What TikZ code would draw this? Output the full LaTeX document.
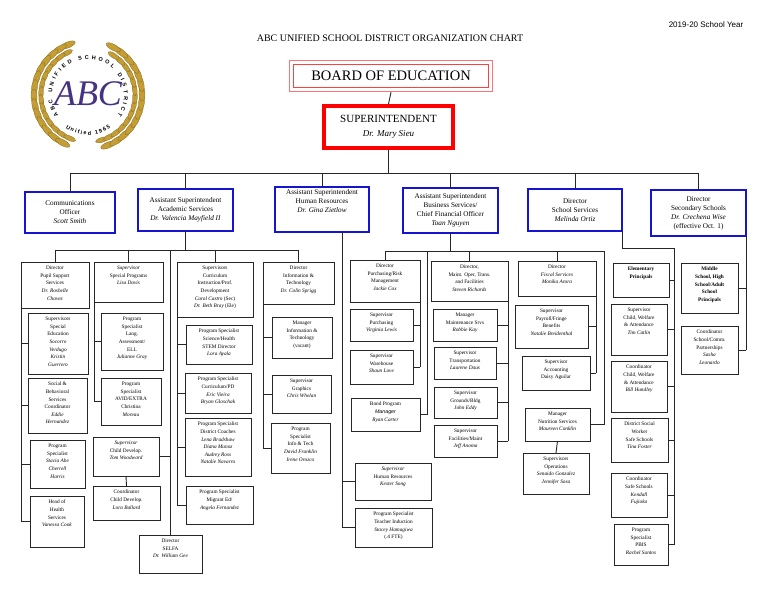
\documentclass[tikz,border=0pt]{standalone}
\usepackage{fontspec}
\setmainfont{Liberation Serif}
\newfontfamily\arialf{Liberation Sans}
\usetikzlibrary{decorations.text,calc}
\definecolor{gold}{RGB}{196,158,52}
\definecolor{goldd}{RGB}{120,90,20}
\definecolor{abcpurple}{RGB}{70,50,130}
\definecolor{bblue}{RGB}{20,20,210}
\tikzset{
  sbox/.style={draw=black!85, line width=0.9pt, inner sep=0pt, outer sep=0pt},
  stext/.style={align=center, inner sep=0pt, font=\fontsize{5.3}{7.6}\selectfont},
  topbox/.style={draw=bblue, line width=2pt, fill=white, inner sep=0pt, outer sep=0pt, align=center, font=\fontsize{7.2}{9}\selectfont},
  conn/.style={draw=black!85, line width=0.9pt},
}
\newcommand\obox[6]{%
  \node[sbox, minimum width={(#4-#2)*1pt}, minimum height={(#5-#3)*1pt}] (#1) at ({(#2+#4)/2},{-(#3+#5)/2}) {};
  \node[stext, anchor=north] (#1t) at ([yshift=-4pt]#1.north) {#6};}
\newcommand\tbox[6]{%
  \node[topbox, minimum width={(#4-#2)*1pt}, minimum height={(#5-#3)*1pt}] (#1) at ({(#2+#4)/2},{-(#3+#5)/2}) {#6};}
\begin{document}
\begin{tikzpicture}[x=1pt,y=1pt]
\useasboundingbox[fill=white] (0,0) rectangle (768,-594);
% logo
\coordinate (L) at (88,-95);
\foreach \a in {112,122,...,248} {
  \fill[gold,draw=goldd,line width=0.2pt,shift={(L)},rotate=\a] (54,0) ellipse (3pt and 8pt);
  \fill[gold,draw=goldd,line width=0.2pt,shift={(L)},rotate=\a+5] (47,0) ellipse (2.4pt and 6.5pt);}
\foreach \a in {-68,-58,...,68} {
  \fill[gold,draw=goldd,line width=0.2pt,shift={(L)},rotate=\a] (54,0) ellipse (3pt and 8pt);
  \fill[gold,draw=goldd,line width=0.2pt,shift={(L)},rotate=\a-5] (47,0) ellipse (2.4pt and 6.5pt);}
\node[text=abcpurple, font=\itshape\fontsize{36}{36}\selectfont, inner sep=0pt] (abc) at (88,-94) {ABC};
\path[decorate, decoration={text along path, text align=fit to path,
  text={|\arialf\bfseries\fontsize{5.5}{5.5}\selectfont|ABC UNIFIED SCHOOL DISTRICT}}]
  ($(L)+(215:36)$) arc (215:-35:36);
\path[decorate, decoration={text along path, text align=fit to path,
  text={|\arialf\bfseries\fontsize{5.5}{5.5}\selectfont|Unified 1965}}]
  ($(L)+(236:40)$) arc (236:304:40);
% titles
\node[font=\arialf\fontsize{8}{9}\selectfont] (yr) at (706,-25) {2019-20 School Year};
\node[font=\fontsize{10}{12}\selectfont] (title) at (390,-38) {ABC UNIFIED SCHOOL DISTRICT ORGANIZATION CHART};
\node[draw=red!55, line width=1.5pt, minimum width=203pt, minimum height=31pt, inner sep=0pt] (board) at (391,-76) {};
\node[draw=red!75, line width=0.8pt, minimum width=195pt, minimum height=23pt, inner sep=0pt, font=\fontsize{14.5}{15}\selectfont] (boardi) at (391,-76) {BOARD OF EDUCATION};
\node[draw=red, line width=4pt, minimum width=129pt, minimum height=42pt, inner sep=0pt, align=center, font=\fontsize{11}{14}\selectfont] (super) at (388.5,-127) {SUPERINTENDENT\\\textit{\fontsize{9}{12}\selectfont Dr. Mary Sieu}};
% top boxes
\tbox{comm}{25}{192}{115}{233}{Communications\\Officer\\\textit{Scott Smith}}
\tbox{acad}{138}{189}{233}{231}{Assistant Superintendent\\Academic Services\\\textit{Dr. Valencia Mayfield II}}
\tbox{hr}{275}{187}{369}{232}{Assistant Superintendent\\Human Resources\\\textit{Dr. Gina Zietlow}\\[8pt]}
\tbox{bus}{403}{188}{498}{233}{Assistant Superintendent\\Business Services/\\Chief Financial Officer\\\textit{Toan Nguyen}}
\tbox{schs}{528}{189}{622}{231}{Director\\School Services\\\textit{Melinda Ortiz}}
\tbox{sec}{651}{190}{746}{236}{Director\\Secondary Schools\\\textit{Dr. Crechena Wise}\\(effective Oct. 1)}
% academic columns
\obox{pupil}{21}{262}{89}{308}{Director\\Pupil Support\\Services\\\textit{Dr. Roshelle}\\\textit{Chavez}}
\obox{sped}{28}{313}{88}{374}{Supervisors\\Special\\Education\\\textit{Socorro}\\\textit{Verdugo}\\\textit{Kristin}\\\textit{Guerrero}}
\obox{social}{28}{378}{87}{433}{Social \&\\Behavioral\\Services\\Coordinator\\\textit{Eddie}\\\textit{Hernandez}}
\obox{stacia}{30}{440}{85}{488}{Program\\Specialist\\\textit{Stacia Abe}\\\textit{Cherrell}\\\textit{Harris}}
\obox{health}{30}{496}{84}{547}{Head of\\Health\\Services\\\textit{Vanessa Cook}}
\obox{specprog}{94}{262}{163}{302}{\textit{Supervisor}\\Special Programs\\\textit{Lisa Davis}}
\obox{lang}{101}{313}{163}{370}{Program\\Specialist\\Lang.\\Assessment/\\ELL\\\textit{Julianne Gray}}
\obox{avid}{101}{378}{161}{425}{Program\\Specialist\\AVID/EXTRA\\Christina\\\textit{Moreau}}
\obox{childdev}{93}{437}{159}{476}{\textit{Supervisor}\\Child Develop.\\\textit{Tom Woodward}}
\obox{coordcd}{93}{486}{160}{520}{Coordinator\\Child Develop.\\\textit{Lora Ballard}}
\obox{selfa}{139}{535}{202}{573}{Director\\SELFA\\\textit{Dr. William Gee}}
\obox{curr}{177}{262}{253}{317}{Supervisors\\Curriculum\\Instruction/Prof.\\Development\\\textit{Carol Castro} (Sec)\\\textit{Dr. Beth Bray} (Ele)}
\obox{stem}{186}{325}{252}{364}{Program Specialist\\Science/Health\\STEM Director\\\textit{Lora Ayala}}
\obox{cpd}{185}{373}{251}{413}{Program Specialist\\Curriculum/PD\\\textit{Eric Vieira}\\\textit{Bryan Gloschak}}
\obox{coach}{185}{418}{251}{476}{Program Specialist\\District Coaches\\\textit{Lena Bradshaw}\\\textit{Diana Munoz}\\\textit{Audrey Ross}\\\textit{Natalie Navarro}}
\obox{migrant}{186}{486}{253}{524}{Program Specialist\\Migrant Ed/\\\textit{Angela Fernandez}}
\obox{dirit}{263}{262}{334}{304}{Director\\Information \&\\Technology\\\textit{Dr. Colin Sprigg}}
\obox{mgrit}{272}{317}{332}{358}{Manager\\Information \&\\Technology\\(vacant)}
\obox{graph}{272}{375}{331}{413}{Supervisor\\Graphics\\\textit{Chris Whelan}}
\obox{pit}{271}{423}{330}{473}{Program\\Specialist\\Info \& Tech\\\textit{David Franklin}\\\textit{Irene Orozco}}
% HR
\obox{shr}{355}{463}{431}{500}{\textit{Supervisor}\\Human Resources\\\textit{Kester Song}}
\obox{tind}{355}{508}{432}{547}{Program Specialist\\Teacher Induction\\\textit{Stacey Hamagiwa}\\(.4 FTE)}
% business
\obox{dpur}{350}{260}{420}{302}{Director\\Purchasing/Risk\\Management\\\textit{Jackie Cox}}
\obox{spur}{350}{309}{413}{341}{Supervisor\\Purchasing\\\textit{Virginia Lewis}}
\obox{ware}{350}{350}{413}{384}{Supervisor\\Warehouse\\\textit{Shaun Love}}
\obox{bond}{351}{398}{420}{431}{Bond Program\\{\arialf\itshape Manager}\\\textit{Ryan Carter}}
\obox{dmaint}{431}{261}{508}{301}{Director,\\Maint. Oper, Trans.\\and Facilities\\\textit{Steven Richards}}
\obox{mms}{433}{309}{497}{341}{Manager\\Maintenance Srvs\\\textit{Robbie Kay}}
\obox{trans}{434}{347}{496}{379}{Supervisor\\Transportation\\\textit{Laurene Daus}}
\obox{grounds}{434}{387}{497}{418}{Supervisor\\Grounds/Bldg\\\textit{John Eddy}}
\obox{fac}{434}{425}{497}{457}{Supervisor\\Facilities/Maint\\\textit{Jeff Anoma}}
\obox{fiscal}{518}{261}{596}{296}{Director\\\textit{Fiscal Services}\\\textit{Monika Arora}}
\obox{payroll}{515}{305}{588}{348}{Supervisor\\Payroll/Fringe\\Benefits\\\textit{Natalie Breidenthal}}
\obox{acct}{522}{356}{590}{390}{Supervisor\\Accounting\\Daisy Aguilar}
\obox{nutr}{525}{408}{590}{441}{Manager\\Nutrition Services\\\textit{Maureen Conklin}}
\obox{ops}{523}{453}{589}{494}{Supervisors\\Operations\\\textit{Senaido Gonzalez}\\\textit{Jennifer Sosa}}
% school services
\obox{elem}{613}{263}{669}{297}{\textbf{Elementary}\\\textbf{Principals}}
\obox{cwa1}{611}{304}{667}{355}{Supervisor\\Child, Welfare\\\& Attendance\\\textit{Tim Catlin}}
\obox{cwa2}{611}{361}{667}{412}{Coordinator\\Child, Welfare\\\& Attendance\\\textit{Bill Hundley}}
\obox{dsw}{611}{418}{668}{462}{District Social\\Worker\\Safe Schools\\\textit{Tina Foster}}
\obox{css}{611}{473}{667}{517}{Coordinator\\Safe Schools\\\textit{Kendall}\\\textit{Fujioka}}
\obox{pbis}{614}{524}{668}{565}{Program\\Specialist\\PBIS\\\textit{Rachel Santos}}
% secondary
\obox{mshs}{681}{263}{738}{313}{\textbf{Middle}\\\textbf{School, High}\\\textbf{School/Adult}\\\textbf{School}\\\textbf{Principals}}
\obox{comm2}{681}{326}{738}{374}{Coordinator\\School/Comm.\\Partnerships\\\textit{Sasha}\\\textit{Leonardo}}
% connectors
\coordinate (topbus) at (0,-173);
\coordinate (abus) at (0,-250);
\coordinate (bbus) at (0,-251);
\coordinate (nx) at (604,-251);
\coordinate (bx) at (427,-251);
\coordinate (ss) at (674,-248);
\coordinate (hrx) at (342,-232);
\draw[conn] (board.south) -- (super.north);
\draw[conn] (super.south) -- (super.south|-topbus);
\draw[conn] (comm.north) -- (comm.north|-topbus) -- (sec.north|-topbus) -- (sec.north);
\foreach \n in {acad,hr,bus,schs} \draw[conn] (\n.north) -- (\n.north|-topbus);
\draw[conn] (acad.south) -- (acad.south|-abus);
\draw[conn] (pupil.north) -- (pupil.north|-abus) -- (dirit.north|-abus) -- (dirit.north);
\foreach \n in {specprog,curr} \draw[conn] (\n.north) -- (\n.north|-abus);
\draw[conn] (selfa.north) -- (selfa.north|-abus);
\draw[conn] (childdev.east) -- (childdev.east-|selfa.north);
\draw[conn] (childdev.south) -- (coordcd.north);
\draw[conn] (pupil.south west) -- (pupil.south west|-health.west);
\foreach \n in {sped,social,stacia,health} \draw[conn] (\n.west) -- (\n.west-|pupil.south west);
\draw[conn] (specprog.south west) -- (specprog.south west|-avid.west);
\foreach \n in {lang,avid} \draw[conn] (\n.west) -- (\n.west-|specprog.south west);
\draw[conn] (curr.south west) -- (curr.south west|-migrant.west);
\foreach \n in {stem,cpd,coach,migrant} \draw[conn] (\n.west) -- (\n.west-|curr.south west);
\draw[conn] (dirit.south west) -- (dirit.south west|-pit.west);
\foreach \n in {mgrit,graph,pit} \draw[conn] (\n.west) -- (\n.west-|dirit.south west);
\draw[conn] (hrx) -- (hrx|-tind.west);
\foreach \n in {shr,tind} \draw[conn] (\n.west) -- (\n.west-|hrx);
\draw[conn] (bus.south) -- (bus.south|-bbus);
\draw[conn] (dpur.north) -- (dpur.north|-bbus) -- (nx) -- (nx|-nutr.east) -- (nutr.east);
\foreach \n in {dmaint,fiscal} \draw[conn] (\n.north) -- (\n.north|-bbus);
\draw[conn] (bx) -- (bx|-bond.east) -- (bond.east);
\draw[conn] (dpur.south east) -- (dpur.south east|-ware.east);
\foreach \n in {spur,ware} \draw[conn] (\n.east) -- (\n.east-|dpur.south east);
\draw[conn] (dmaint.south east) -- (dmaint.south east|-fac.east);
\foreach \n in {mms,trans,grounds,fac} \draw[conn] (\n.east) -- (\n.east-|dmaint.south east);
\draw[conn] (fiscal.south east) -- (fiscal.south east|-acct.east);
\foreach \n in {payroll,acct} \draw[conn] (\n.east) -- (\n.east-|fiscal.south east);
\draw[conn] (nutr.south) -- (ops.north);
\draw[conn] (schs.south east) -- (schs.south east|-ss) -- (ss) -- (ss|-pbis.east);
\foreach \n in {elem,cwa1,cwa2,dsw,css,pbis} \draw[conn] (\n.east) -- (\n.east-|ss);
\draw[conn] (sec.south east) -- (sec.south east|-comm2.east);
\foreach \n in {mshs,comm2} \draw[conn] (\n.east) -- (\n.east-|sec.south east);
\end{tikzpicture}
\end{document}
